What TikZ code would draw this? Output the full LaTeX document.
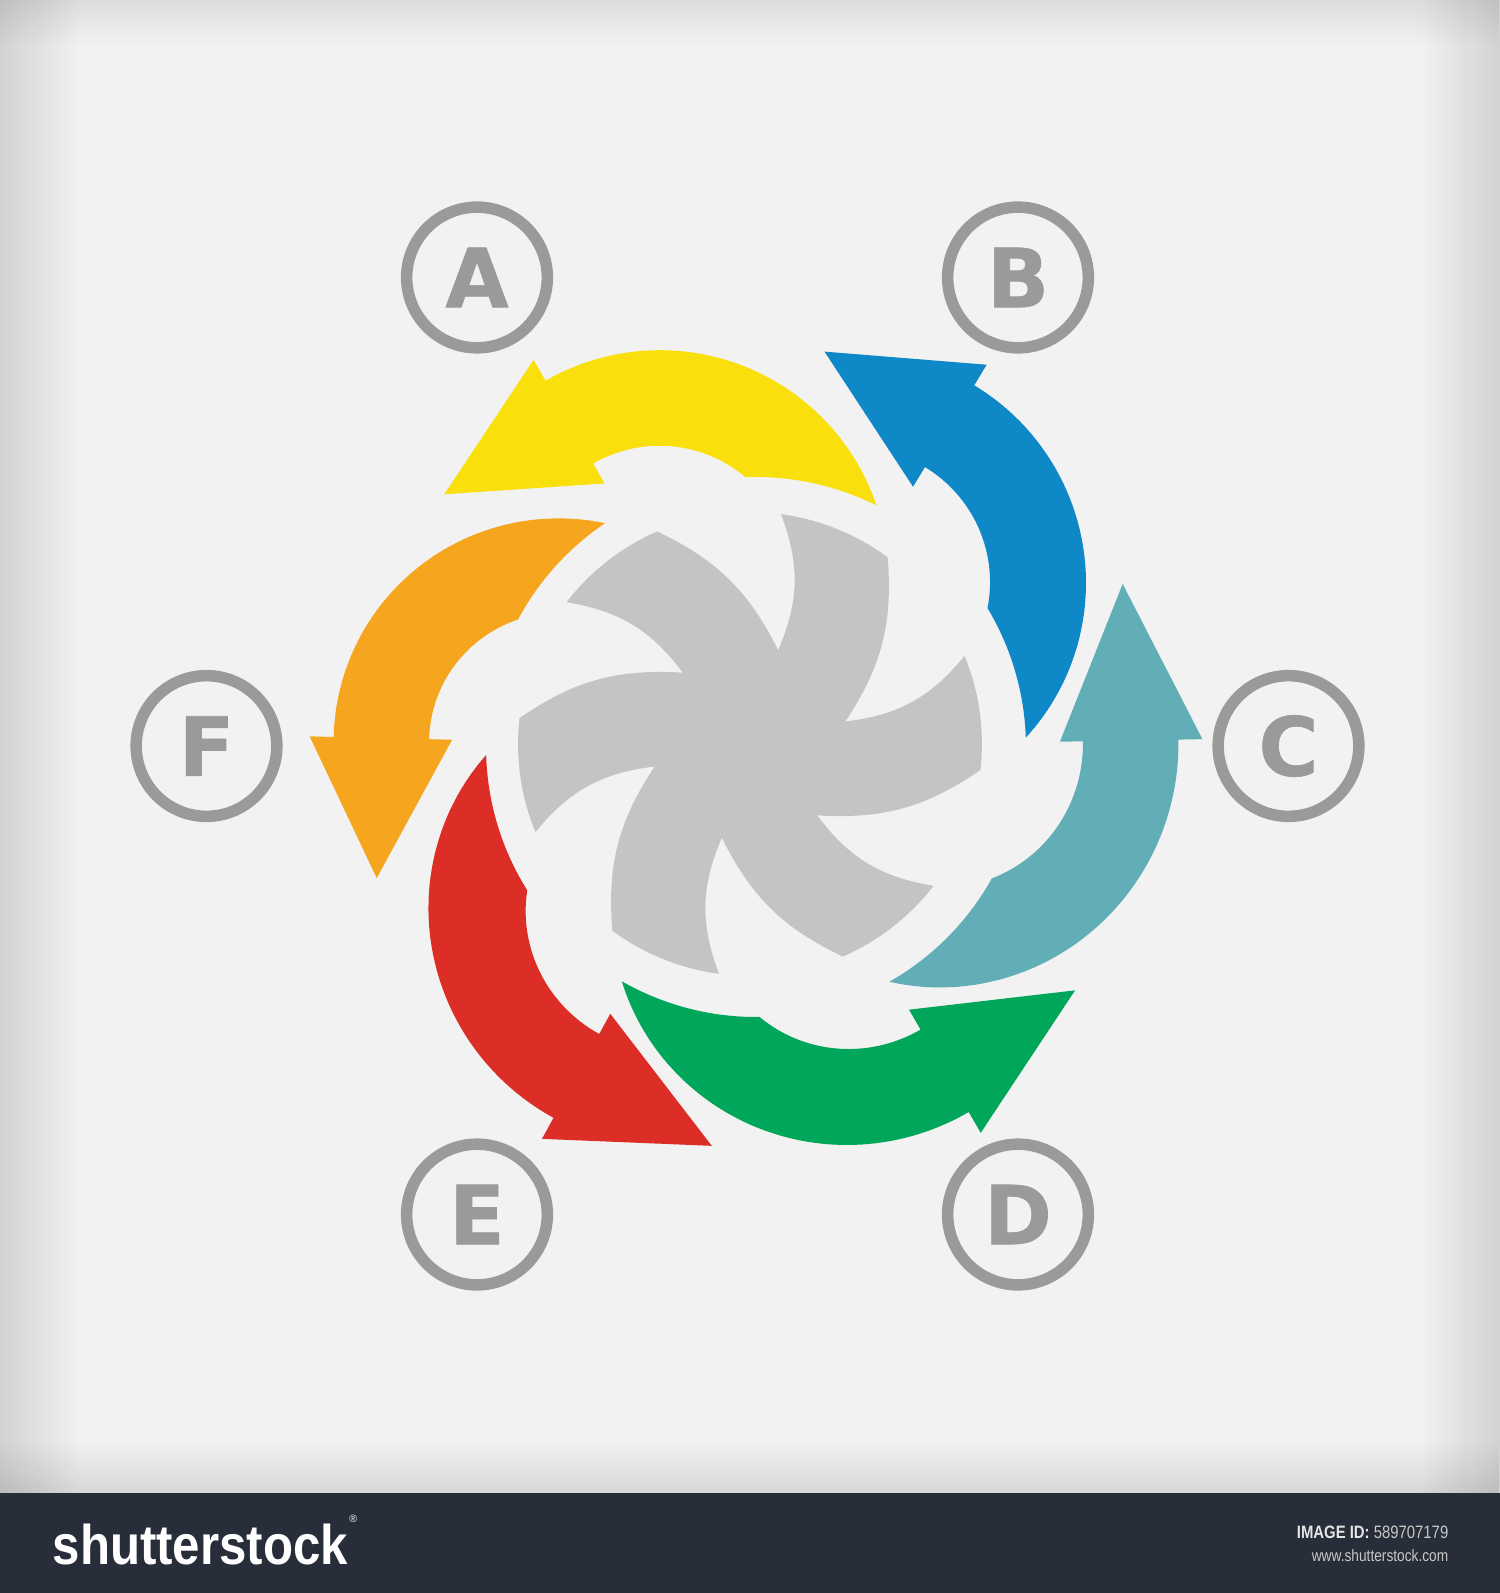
\documentclass[tikz,border=0pt]{standalone}
\usepackage{fontspec}
\setmainfont{Liberation Sans}
\newfontfamily\letterfont{DejaVu Sans Bold}[FakeBold=0.8]
\usetikzlibrary{fadings,calc}
\definecolor{bgc}{HTML}{F2F2F2}
\definecolor{barc}{HTML}{282E39}
\definecolor{swirlc}{HTML}{C4C4C4}
\definecolor{ringc}{HTML}{9A9A9A}
\definecolor{yelc}{HTML}{F9E00D}
\definecolor{bluc}{HTML}{0E88C6}
\definecolor{teac}{HTML}{62AEB7}
\definecolor{grec}{HTML}{00A659}
\definecolor{redc}{HTML}{DC2D27}
\definecolor{orac}{HTML}{F5A61E}
\tikzfading[name=fadeR, left color=transparent!0, right color=transparent!100]
\tikzfading[name=fadeL, left color=transparent!100, right color=transparent!0]
\tikzfading[name=fadeD, top color=transparent!0, bottom color=transparent!100]
\tikzfading[name=fadeU, top color=transparent!100, bottom color=transparent!0]
\tikzset{
  ringnode/.style={circle, draw=ringc, line width=1.15mm, minimum size=1.406cm,
    inner sep=0pt, text=ringc, font=\letterfont\fontsize{23.2}{24}\selectfont},
  vign/.style={black, opacity=0.13}
}
\begin{document}
\begin{tikzpicture}[x=0.01cm, y=-0.01cm]
\useasboundingbox (0,0) rectangle (1500,1593);
% background and vignette
\fill[bgc] (0,0) rectangle (1500,1493);
\fill[vign, path fading=fadeR] (0,0) rectangle (80,1493);
\fill[vign, path fading=fadeL] (1420,0) rectangle (1500,1493);
\fill[vign, opacity=0.09, path fading=fadeD] (0,0) rectangle (1500,45);
\fill[vign, opacity=0.11, path fading=fadeU] (0,1440) rectangle (1500,1493);
\fill[barc] (0,1493) rectangle (1500,1593);

% central grey swirl
\begin{scope}[shift={(750,744)}]
\fill[swirlc] (-13.3:98) \foreach \a in {0,60,...,300} {
  to[bend right=22] (\a-22.2:231)
  -- plot[domain=-22.2:6.4, samples=12, variable=\t] (\a+\t:232)
  to[bend left=19] (\a+46.7:98)
} -- cycle;
\end{scope}

% six curved arrows (angle, rotation, stretch, colour)
\begin{scope}[shift={(756,747)}]
\foreach \p/\rr/\sc/\col in {241/-0.7/1.0104/yelc, 301/0.45/1.0196/bluc, 1/-0.25/1.1004/teac, 61/0.1/1.0756/grec, 121/-1.15/1.0691/redc, 181/0/0.9791/orac}{
  \pgfmathsetmacro\qq{\p+\rr+17.5}
  \fill[\col] ({\qq-17.5*\sc}:422.5)
   -- plot[domain=0:101, samples=50, variable=\t] ({\qq+\sc*(atan2(227.5*sin(\t),195+227.5*cos(\t))-17.5)}:{veclen(195+227.5*cos(\t),227.5*sin(\t))})
   -- plot[domain=0:1, samples=20, variable=\t] ({\qq+\sc*(55.81-28.41*\t-17.5)}:270)
   -- plot[domain=0:1, samples=40, variable=\t] ({\qq+\sc*(atan2(132*sin(70.2-70.2*\t),195+132*cos(70.2-70.2*\t))-17.5)}:{veclen(195+132*cos(70.2-70.2*\t),132*sin(70.2-70.2*\t))})
   -- ({\qq-17.5*\sc}:304)
   -- ({\qq+\sc*(-20.87-17.5)}:401.3)
   -- ({\qq-17.5*\sc}:446.5) -- cycle;
}
\end{scope}

% letter circles
\begin{scope}[shift={(747.5,746)}]
\foreach \ang/\L in {240/A,300/B,0/C,60/D,120/E,180/F}
  \node[ringnode] (c\L) at (\ang:541) {\L};
\end{scope}

% bottom bar texts
\node[anchor=base west, inner sep=0pt, text=white, font=\bfseries\fontsize{15.9}{16}\selectfont] (logo) at (52,1564) {\scalebox{0.88}[1]{shutterstock}};
\node[anchor=south west, inner sep=0pt, text=white, font=\fontsize{3}{3}\selectfont] (reg) at (logo.north east) {\raisebox{-2.2mm}{®}};
\node[anchor=base east, inner sep=0pt, text=white!90!black, font=\fontsize{5.1}{6}\selectfont] (imgid) at (1449,1538) {\scalebox{0.83}[1]{\textbf{IMAGE ID:} \textcolor{white!78!black}{589707179}}};
\node[anchor=base east, inner sep=0pt, text=white!78!black, font=\fontsize{4.7}{6}\selectfont] (www) at (1449,1561) {\scalebox{0.83}[1]{www.shutterstock.com}};
\end{tikzpicture}
\end{document}
